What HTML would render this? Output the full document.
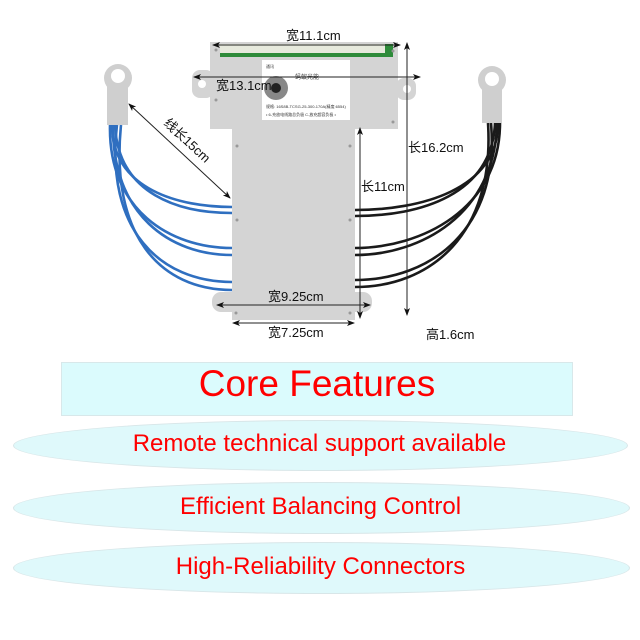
<!DOCTYPE html>
<html><head><meta charset="utf-8"><style>
body{margin:0;width:640px;height:640px;background:#fff;overflow:hidden;position:relative;font-family:"Liberation Sans","Noto Sans CJK SC",sans-serif}
.ft{position:absolute;font-family:"Liberation Sans",sans-serif;color:#f00;text-align:center}
</style></head><body>
<svg width="640" height="640" style="position:absolute;left:0;top:0" xmlns="http://www.w3.org/2000/svg">
<defs>
<marker id="a" markerWidth="8" markerHeight="8" refX="7" refY="4" orient="auto-start-reverse"><path d="M0,1 L8,4 L0,7 L2,4z" fill="#111"/></marker>
</defs>
<!-- blue wires -->
<g fill="none" stroke="#2f6fc0" stroke-width="2.6">
<path d="M112,125 C112,190 180,207 232,207"/><path d="M115,125 C118,195 180,213 232,213"/>
<path d="M110,125 C108,210 170,248 232,248"/><path d="M113,125 C112,215 170,255 232,255"/>
<path d="M117,125 C105,230 160,282 232,282"/><path d="M121,125 C110,235 160,290 232,290"/>
</g>
<g fill="none" stroke="#1a1a1a" stroke-width="2.6">
<path d="M498,123 C498,190 420,210 355,210"/><path d="M495,123 C492,195 420,216 355,216"/>
<path d="M500,123 C500,210 420,248 355,248"/><path d="M497,123 C495,215 420,255 355,255"/>
<path d="M491,123 C500,230 430,280 355,280"/><path d="M488,123 C495,235 430,287 355,287"/>
</g>
<!-- terminals -->
<g fill="#cfcfcf"><circle cx="118" cy="78" r="14"/><rect x="107" y="86" width="21" height="39"/>
<circle cx="492" cy="80" r="14"/><rect x="482" y="88" width="20" height="35"/></g>
<circle cx="118" cy="76" r="7" fill="#fff"/><circle cx="492" cy="79" r="7" fill="#fff"/>
<!-- board -->
<g fill="#d4d4d4">
<rect x="192" y="70" width="22" height="28" rx="8"/><rect x="396" y="78" width="20" height="22" rx="8"/>
<rect x="212" y="292" width="160" height="20" rx="9"/>
<rect x="210" y="42" width="188" height="87"/><rect x="232" y="128" width="123" height="192"/>
</g>
<circle cx="202" cy="84" r="4" fill="#fff"/><circle cx="407" cy="89" r="4" fill="#fff"/>
<rect x="220" y="44" width="173" height="13" fill="#2e8b3a"/>
<rect x="220" y="44" width="165" height="9" fill="#e6e9dc"/>
<rect x="262" y="60" width="88" height="60" fill="#fff"/>
<circle cx="276" cy="88" r="12" fill="#888"/><circle cx="276" cy="88" r="5" fill="#222"/>
<g font-size="4" fill="#333"><text x="266" y="68">通讯</text><text x="295" y="79" font-size="6">蚂蚁光能</text><text x="266" y="108">规格: 16S8B-TCSG-25-300-170A(精度:6554)</text><text x="266" y="116">• 6-充放电线路总负极     C-放充超容负极 •</text></g>
<g fill="#999"><circle cx="216" cy="50" r="1.5"/><circle cx="393" cy="51" r="1.5"/><circle cx="216" cy="100" r="1.5"/><circle cx="393" cy="122" r="1.5"/><circle cx="237" cy="146" r="1.5"/><circle cx="350" cy="146" r="1.5"/><circle cx="237" cy="220" r="1.5"/><circle cx="350" cy="220" r="1.5"/><circle cx="236" cy="313" r="1.5"/><circle cx="350" cy="313" r="1.5"/></g>
<!-- dimension lines -->
<g stroke="#222" stroke-width="1" marker-start="url(#a)" marker-end="url(#a)">
<line x1="213" y1="45" x2="400" y2="45"/>
<line x1="194" y1="77" x2="420" y2="77"/>
<line x1="407" y1="43" x2="407" y2="315"/>
<line x1="360" y1="128" x2="360" y2="318"/>
<line x1="217" y1="305" x2="370" y2="305"/>
<line x1="233" y1="323" x2="354" y2="323"/>
<line x1="129" y1="104" x2="230" y2="198"/>
</g>
<g font-size="13" fill="#111">
<text x="286" y="40">宽11.1cm</text>
<text x="216" y="90">宽13.1cm</text>
<text x="408" y="152">长16.2cm</text>
<text x="361" y="191">长11cm</text>
<text x="268" y="301">宽9.25cm</text>
<text x="268" y="337">宽7.25cm</text>
<text x="426" y="339">高1.6cm</text>
<text x="0" y="0" transform="translate(163,124) rotate(43)">线长15cm</text>
</g>
</svg>
<div style="position:absolute;left:61px;top:362px;width:510px;height:52px;background:#dbfbfd;border:1px solid #d8e8ea"></div>
<div class="ft" style="left:61px;top:358px;width:512px;font-size:37px;line-height:52px">Core Features</div>
<div style="position:absolute;left:13px;top:420px;width:613px;height:49px;border-radius:50%;background:#dff9fb;border:1px solid #d8e6e8"></div>
<div class="ft" style="left:13px;top:428px;width:613px;font-size:24px;line-height:32px">Remote technical support available</div>
<div style="position:absolute;left:13px;top:482px;width:615px;height:50px;border-radius:50%;background:#dff9fb;border:1px solid #d8e6e8"></div>
<div class="ft" style="left:13px;top:491px;width:615px;font-size:24px;line-height:32px">Efficient Balancing Control</div>
<div style="position:absolute;left:13px;top:542px;width:615px;height:50px;border-radius:50%;background:#dff9fb;border:1px solid #d8e6e8"></div>
<div class="ft" style="left:13px;top:551px;width:615px;font-size:24px;line-height:32px">High-Reliability Connectors</div>
</body></html>
